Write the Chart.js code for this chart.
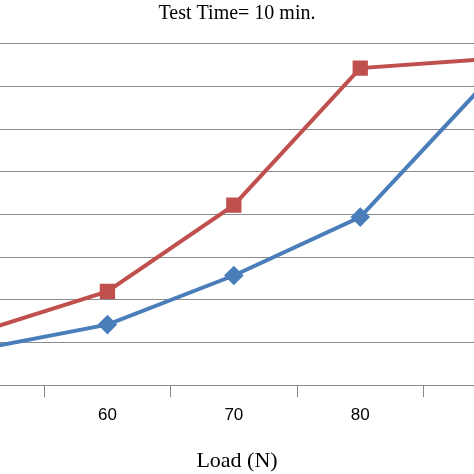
<!DOCTYPE html>
<html><head><meta charset="utf-8">
<script src="https://cdn.jsdelivr.net/npm/chart.js@4"></script>
<style>html,body{margin:0;padding:0;overflow:hidden;background:#fff;width:474px;height:474px}
#w{position:absolute;left:-12px;top:-6px;width:498px;height:480px}</style>
</head><body><div id="w"><canvas id="c"></canvas></div>
<script>
const loads=[50,60,70,80,90];
const redSeries=[1.26,2.20,4.22,7.43,7.64];
const blueSeries=[0.85,1.42,2.57,3.94,7.11];
const titleText='Test Time= 10 min.';
const xTitle='Load (N)';
new Chart(document.getElementById('c'),{
type:'line',
data:{datasets:[
{data:loads.map((x,i)=>({x,y:redSeries[i]})),borderColor:'#c0504d',backgroundColor:'#c0504d',borderWidth:4,pointStyle:'rect',pointRadius:8,tension:0},
{data:loads.map((x,i)=>({x,y:blueSeries[i]})),borderColor:'#4a7ebb',backgroundColor:'#4a7ebb',borderWidth:4,pointStyle:'rectRot',pointRadius:7,tension:0}
]},
options:{animation:false,responsive:true,maintainAspectRatio:false,
layout:{padding:{left:0,right:0,top:0,bottom:0}},
plugins:{legend:{display:false},tooltip:{enabled:false},
title:{display:true,text:titleText,color:'#000',font:{family:'Liberation Serif',size:20,weight:'normal'},padding:{top:8,bottom:2}}},
scales:{
x:{type:'linear',min:51.5,max:89.0,
 ticks:{stepSize:5,autoSkip:false,color:'#000',font:{family:'Liberation Sans',size:17},padding:8,maxRotation:0,
  callback:v=>(v%10===0?String(v):'')},
 afterBuildTicks:a=>{a.ticks=[55,60,65,70,75,80,85].map(v=>({value:v}));},
 grid:{drawOnChartArea:false,tickLength:12,color:c=>(c.tick&&c.tick.value%10===0)?'rgba(0,0,0,0)':'#888'},
 border:{color:'#888',width:1},
 title:{display:true,text:xTitle,color:'#000',font:{family:'Liberation Serif',size:22},padding:{top:14,bottom:0}}},
y:{min:0,max:8.37,ticks:{display:false,stepSize:1},
 afterBuildTicks:a=>{a.ticks=[0,1,2,3,4,5,6,7,8].map(v=>({value:v}));},
 grid:{color:'#8c8c8c',drawTicks:false,lineWidth:1},border:{display:false}}
}}});
</script></body></html>
